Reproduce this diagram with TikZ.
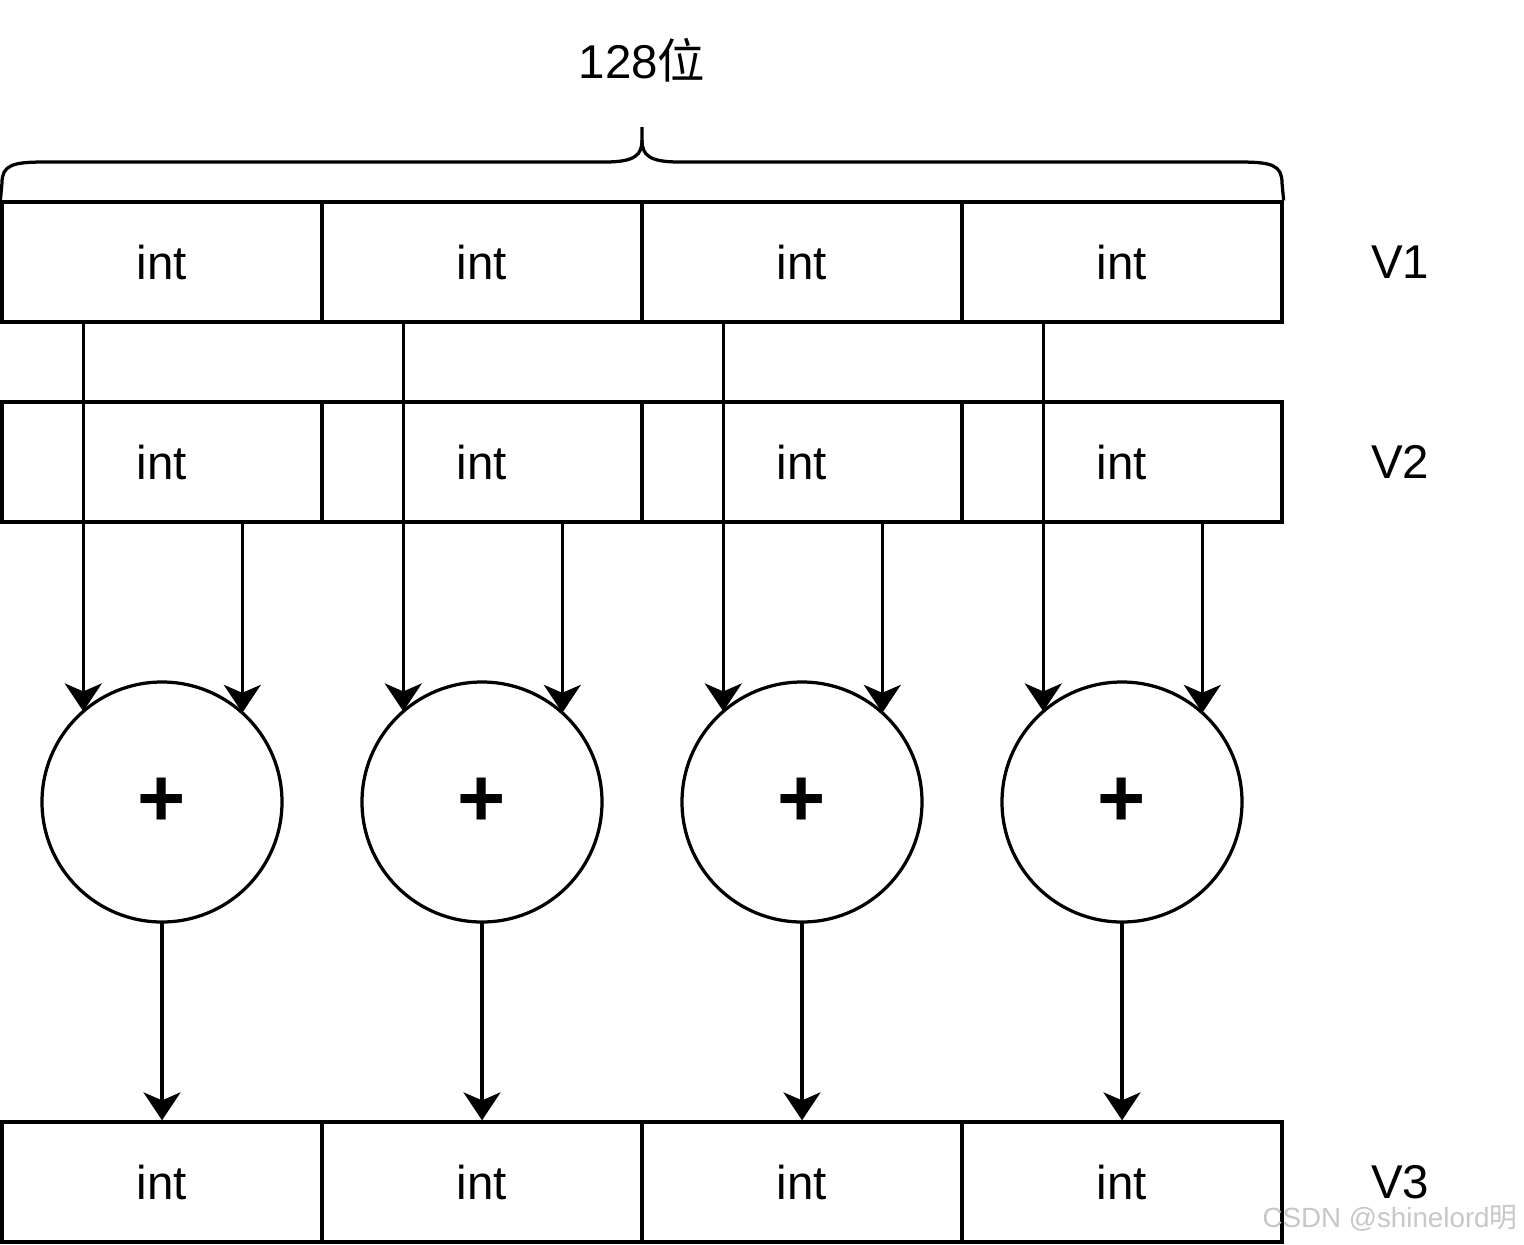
\documentclass[tikz,border=0pt]{standalone}
\usepackage{fontspec}
\setmainfont{Liberation Sans}
\newfontfamily\cjk{Noto Sans CJK SC}
\usetikzlibrary{shapes,arrows.meta,calc,positioning}
\tikzstyle{cell} = [rectangle, draw, line width=0.065cm, minimum width=6.4cm,
    minimum height=2.4cm, inner sep=0pt, font=\fontsize{27}{32}\selectfont]
\tikzstyle{adder} = [circle, draw, line width=0.065cm, minimum size=4.8cm,
    inner sep=0pt, outer sep=0pt, font=\bfseries\fontsize{47}{50}\selectfont]
\tikzstyle{vlabel} = [font=\fontsize{27}{32}\selectfont]
\tikzstyle{line} = [draw, line width=0.065cm, -{Stealth[length=0.56cm, width=0.74cm, inset=0.16cm]}]

\begin{document}
\begin{tikzpicture}[node distance = 6.4cm]
  \useasboundingbox (0,0) rectangle (30.48,-24.88);
  % Place nodes
  \node [cell] (v1a) at (3.24,-5.24) {int};
  \node [cell, right of=v1a] (v1b) {int};
  \node [cell, right of=v1b] (v1c) {int};
  \node [cell, right of=v1c] (v1d) {int};
  \node [vlabel, right of=v1d, node distance=5.56cm] (lab1) {V1};

  \node [cell, below of=v1a, node distance=4cm] (v2a) {int};
  \node [cell, right of=v2a] (v2b) {int};
  \node [cell, right of=v2b] (v2c) {int};
  \node [cell, right of=v2c] (v2d) {int};
  \node [vlabel, right of=v2d, node distance=5.56cm] (lab2) {V2};

  \node [adder, below of=v2a, node distance=6.8cm] (adda) {+};
  \node [adder, right of=adda] (addb) {+};
  \node [adder, right of=addb] (addc) {+};
  \node [adder, right of=addc] (addd) {+};

  \node [cell, below of=adda, node distance=7.6cm] (v3a) {int};
  \node [cell, right of=v3a] (v3b) {int};
  \node [cell, right of=v3b] (v3c) {int};
  \node [cell, right of=v3c] (v3d) {int};
  \node [vlabel, right of=v3d, node distance=5.56cm] (lab3) {V3};

  % V1 into the adders
  \path [line] (v1a.south -| adda.131.8) -- (adda.131.8);
  \path [line] (v1b.south -| addb.131.8) -- (addb.131.8);
  \path [line] (v1c.south -| addc.131.8) -- (addc.131.8);
  \path [line] (v1d.south -| addd.131.8) -- (addd.131.8);
  % V2 into the adders
  \path [line] (v2a.south -| adda.48.2) -- (adda.48.2);
  \path [line] (v2b.south -| addb.48.2) -- (addb.48.2);
  \path [line] (v2c.south -| addc.48.2) -- (addc.48.2);
  \path [line] (v2d.south -| addd.48.2) -- (addd.48.2);
  % sums into V3
  \path [line] (adda) -- (v3a);
  \path [line] (addb) -- (v3b);
  \path [line] (addc) -- (v3c);
  \path [line] (addd) -- (v3d);

  % brace over V1
  \draw[line width=0.065cm] (v1a.north west) -- (0.04,-3.66)
      .. controls (0.04,-3.3) and (0.25,-3.24) .. (0.9,-3.24) -- (12.1,-3.24)
      .. controls (12.7,-3.24) and (12.84,-3.1) .. (12.84,-2.8) -- (12.84,-2.54);
  \draw[line width=0.065cm] (v1d.north east) -- (25.64,-3.66)
      .. controls (25.64,-3.3) and (25.43,-3.24) .. (24.78,-3.24) -- (13.58,-3.24)
      .. controls (12.98,-3.24) and (12.84,-3.1) .. (12.84,-2.8);
  \node[vlabel] (bits) at (12.84,-1.2) {128\cjk{位}};

  \node[font=\fontsize{15.8}{18}\selectfont, text=black!22] (mark) at (27.8,-24.36) {CSDN @shinelord\cjk{明}};
\end{tikzpicture}
\end{document}
